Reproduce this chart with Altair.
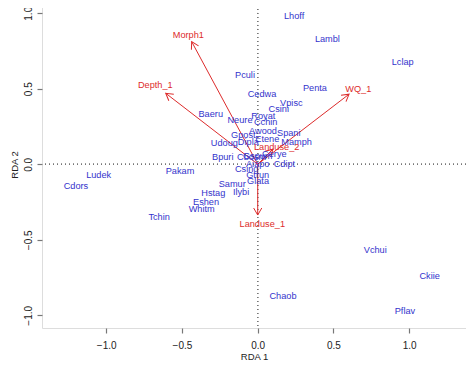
import altair as alt
import pandas as pd

# Species scores (labels drawn at their positions)
sp_names = ["Lhoff", "Lambl", "Lclap", "Penta", "Pculi", "Cedwa", "Vpisc", "Csini",
            "Baeru", "Royat", "Neure", "Cchin", "Awood", "Spani", "Gpost", "Etene",
            "Dipla", "Mamph", "Udoug", "Cerye", "Bpuri", "Cbosm", "Gspum", "Aiapo",
            "Cdipt", "Csing", "Pakam", "Gtrun", "Glata", "Samur", "Ilybi", "Hstag",
            "Eshen", "Whitm", "Tchin", "Ludek", "Cdors", "Vchui", "Ckiie", "Pflav",
            "Chaob"]
sp_x = [0.240, 0.460, 0.957, 0.378, -0.084, 0.028, 0.222, 0.139,
        -0.310, 0.037, -0.117, 0.053, 0.035, 0.205, -0.095, 0.063,
        -0.062, 0.257, -0.220, 0.110, -0.231, -0.040, 0.000, 0.000,
        0.176, -0.073, -0.513, 0.000, 0.002, -0.168, -0.110, -0.293,
        -0.341, -0.370, -0.651, -1.050, -1.200, 0.776, 1.135, 0.972,
        0.167]
sp_y = [0.980, 0.830, 0.680, 0.503, 0.589, 0.468, 0.408, 0.368,
        0.331, 0.322, 0.293, 0.278, 0.223, 0.209, 0.196, 0.166,
        0.150, 0.148, 0.141, 0.070, 0.046, 0.050, 0.058, 0.000,
        0.000, -0.031, -0.044, -0.073, -0.110, -0.130, -0.181, -0.192,
        -0.248, -0.296, -0.351, -0.073, -0.142, -0.568, -0.742, -0.972,
        -0.874]

# Environmental vectors (arrow tips and label positions)
env_names = ["Morph1", "Depth_1", "WQ_1", "Landuse_1", "Landuse_2"]
env_x = [-0.436, -0.607, 0.603, 0.000, 0.100]
env_y = [0.812, 0.470, 0.464, -0.336, 0.100]
env_lx = [-0.458, -0.676, 0.664, 0.030, 0.125]
env_ly = [0.854, 0.523, 0.497, -0.393, 0.117]

x_ticks = [-1.0, -0.5, 0.0, 0.5, 1.0]
y_ticks = [-1.0, -0.5, 0.0, 0.5, 1.0]

BLUE = "#3333cc"
RED = "#dd2b2b"
GREY = "#777777"
FONT = "Liberation Sans"

sp = pd.DataFrame({"name": sp_names, "x": sp_x, "y": sp_y})
env = pd.DataFrame({"name": env_names, "ax": env_x, "ay": env_y,
                    "lx": env_lx, "ly": env_ly})

xs = alt.Scale(domain=[-1.424, 1.375], nice=False, zero=False)
ys = alt.Scale(domain=[-1.084, 1.081], nice=False, zero=False)

xaxis = alt.Axis(values=x_ticks, format=".1f", title="RDA 1", grid=False,
                 domain=False, tickColor=GREY, tickSize=5, tickWidth=1.2,
                 labelPadding=7, labelFontSize=10, labelColor="#222222",
                 titleFontSize=9.5, titleFontWeight="normal", titleColor="#222222",
                 titlePadding=1, labelFont=FONT, titleFont=FONT)
yaxis = alt.Axis(values=y_ticks, format=".1f", title="RDA 2", grid=False,
                 domain=False, tickColor=GREY, tickSize=5, tickWidth=1.2,
                 labelPadding=4, labelFontSize=10, labelColor="#222222",
                 labelAngle=270, labelAlign="center", labelBaseline="bottom",
                 titleFontSize=9.5, titleFontWeight="normal", titleColor="#222222",
                 titlePadding=4, labelFont=FONT, titleFont=FONT)

base_env = alt.Chart(env).transform_calculate(
    zero="0",
    ang="(atan2(datum.ax, datum.ay) * 180 / PI + 360) % 360"
)

hline = alt.Chart(env).mark_rule(color=GREY, strokeDash=[1, 3], strokeWidth=1).encode(
    y=alt.datum(0, scale=ys, axis=yaxis)
)
vline = alt.Chart(env).mark_rule(color=GREY, strokeDash=[1, 3], strokeWidth=1).encode(
    x=alt.datum(0, scale=xs, axis=xaxis)
)

shafts = base_env.mark_rule(color=RED, strokeWidth=1).encode(
    x=alt.X("zero:Q", scale=xs, axis=xaxis),
    y=alt.Y("zero:Q", scale=ys, axis=yaxis),
    x2="ax:Q",
    y2="ay:Q",
)

heads = base_env.mark_point(
    shape="M-0.58,1L0,0L0.58,1", filled=False, color=RED, strokeWidth=1,
    size=196, opacity=1
).encode(
    x=alt.X("ax:Q", scale=xs, axis=xaxis),
    y=alt.Y("ay:Q", scale=ys, axis=yaxis),
    angle=alt.Angle("ang:Q", scale=None),
)

env_text = alt.Chart(env).mark_text(
    color=RED, font=FONT, fontSize=9.2, align="center", baseline="middle"
).encode(
    x=alt.X("lx:Q", scale=xs, axis=xaxis),
    y=alt.Y("ly:Q", scale=ys, axis=yaxis),
    text="name:N",
)

sp_text = alt.Chart(sp).mark_text(
    color=BLUE, font=FONT, fontSize=9.2, align="center", baseline="middle"
).encode(
    x=alt.X("x:Q", scale=xs, axis=xaxis),
    y=alt.Y("y:Q", scale=ys, axis=yaxis),
    text="name:N",
)

chart = alt.layer(hline, vline, shafts, heads, sp_text, env_text).properties(
    width=424, height=327,
    autosize=alt.AutoSizeParams(type="none"),
    padding={"left": 34, "top": -7, "right": 0, "bottom": 34},
).configure_view(
    stroke=GREY, strokeWidth=1.3
).configure(background="white")

chart.save("out.html", embed_options={"renderer": "svg", "actions": False})
